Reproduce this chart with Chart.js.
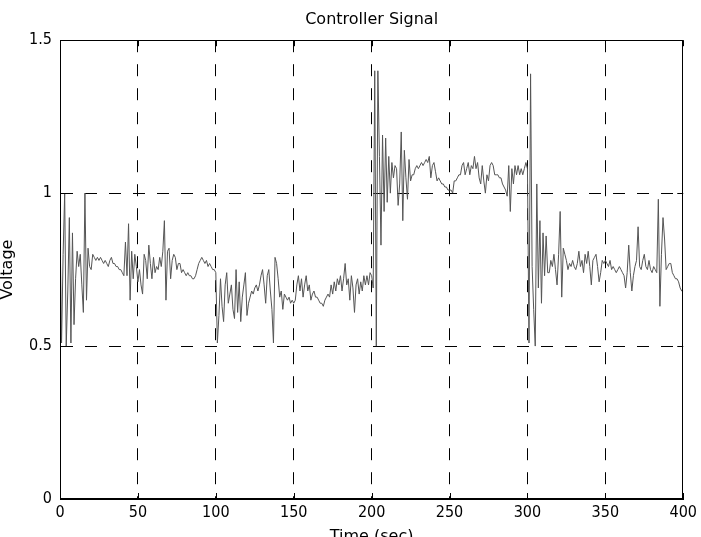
<!DOCTYPE html>
<html>
<head>
<meta charset="utf-8">
<script src="https://cdn.jsdelivr.net/npm/chart.js@4/dist/chart.umd.min.js"></script>
<style>
  html, body { margin: 0; padding: 0; background: #fff; }
  #wrap { position: relative; width: 701px; height: 537px; }
</style>
</head>
<body>
<div id="wrap"><canvas id="c"></canvas></div>
<script>
// one sample per second
const sampleStep = 1

const voltage0to49 = [
  0.90, 0.51, 0.80, 1.00, 0.50, 0.68, 0.92, 0.51, 0.87, 0.57,
  0.72, 0.81, 0.76, 0.80, 0.70, 0.61, 1.00, 0.65, 0.82, 0.76,
  0.75, 0.80, 0.79, 0.78, 0.79, 0.78, 0.79, 0.78, 0.77, 0.78,
  0.77, 0.76, 0.78, 0.79, 0.77, 0.77, 0.76, 0.76, 0.75, 0.75,
  0.74, 0.73, 0.84, 0.73, 0.90, 0.65, 0.81, 0.72, 0.80, 0.76
]
const voltage50to99 = [
  0.71, 0.75, 0.70, 0.67, 0.80, 0.78, 0.72, 0.83, 0.77, 0.72,
  0.79, 0.74, 0.76, 0.75, 0.79, 0.76, 0.81, 0.91, 0.65, 0.81,
  0.82, 0.72, 0.78, 0.80, 0.79, 0.75, 0.77, 0.77, 0.74, 0.75,
  0.74, 0.73, 0.74, 0.73, 0.73, 0.72, 0.72, 0.73, 0.75, 0.77,
  0.78, 0.79, 0.78, 0.77, 0.78, 0.76, 0.77, 0.76, 0.75, 0.75
]
const voltage100to149 = [
  0.74, 0.51, 0.60, 0.72, 0.63, 0.58, 0.70, 0.74, 0.64, 0.67,
  0.70, 0.62, 0.59, 0.75, 0.61, 0.71, 0.58, 0.66, 0.70, 0.74,
  0.60, 0.64, 0.66, 0.68, 0.67, 0.69, 0.70, 0.68, 0.70, 0.73,
  0.75, 0.70, 0.64, 0.73, 0.75, 0.68, 0.62, 0.51, 0.79, 0.77,
  0.72, 0.66, 0.68, 0.62, 0.67, 0.66, 0.65, 0.66, 0.64, 0.65
]
const voltage150to199 = [
  0.64, 0.65, 0.70, 0.73, 0.68, 0.72, 0.66, 0.70, 0.73, 0.68,
  0.70, 0.65, 0.67, 0.68, 0.66, 0.66, 0.65, 0.64, 0.64, 0.63,
  0.65, 0.66, 0.67, 0.66, 0.70, 0.67, 0.71, 0.68, 0.72, 0.70,
  0.73, 0.68, 0.72, 0.77, 0.70, 0.72, 0.65, 0.73, 0.69, 0.61,
  0.70, 0.72, 0.67, 0.71, 0.68, 0.73, 0.70, 0.73, 0.70, 0.74
]
const voltage200to249 = [
  0.73, 0.69, 1.40, 0.50, 1.40, 1.12, 0.83, 1.19, 0.94, 1.18,
  0.97, 1.12, 1.00, 1.10, 1.05, 1.09, 1.08, 0.96, 1.03, 1.20,
  0.91, 1.14, 1.05, 0.98, 1.11, 1.04, 1.06, 1.06, 1.08, 1.09,
  1.08, 1.09, 1.10, 1.09, 1.10, 1.11, 1.10, 1.12, 1.05, 1.09,
  1.10, 1.07, 1.04, 1.05, 1.04, 1.03, 1.03, 1.02, 1.02, 1.01
]
const voltage250to299 = [
  1.01, 1.01, 1.00, 1.04, 1.04, 1.05, 1.06, 1.06, 1.09, 1.10,
  1.06, 1.08, 1.10, 1.06, 1.09, 1.08, 1.12, 1.08, 1.10, 1.05,
  1.03, 1.09, 1.04, 1.00, 1.06, 1.04, 1.09, 1.10, 1.09, 1.06,
  1.06, 1.06, 1.05, 1.05, 1.03, 1.02, 1.01, 0.99, 1.09, 0.94,
  1.08, 1.03, 1.09, 1.06, 1.09, 1.06, 1.08, 1.06, 1.08, 1.10
]
const voltage300to349 = [
  1.08, 0.51, 1.39, 0.76, 0.62, 0.50, 1.03, 0.69, 0.91, 0.64,
  0.87, 0.73, 0.86, 0.74, 0.74, 0.78, 0.76, 0.80, 0.75, 0.70,
  0.80, 0.94, 0.66, 0.82, 0.80, 0.78, 0.75, 0.77, 0.76, 0.78,
  0.76, 0.75, 0.77, 0.81, 0.76, 0.78, 0.74, 0.80, 0.77, 0.81,
  0.76, 0.70, 0.78, 0.79, 0.80, 0.76, 0.71, 0.74, 0.78, 0.77
]
const voltage350to400 = [
  0.78, 0.77, 0.76, 0.78, 0.75, 0.76, 0.75, 0.74, 0.75, 0.76,
  0.75, 0.74, 0.73, 0.69, 0.74, 0.83, 0.74, 0.68, 0.73, 0.76,
  0.78, 0.89, 0.76, 0.75, 0.78, 0.80, 0.76, 0.75, 0.78, 0.75,
  0.74, 0.76, 0.75, 0.74, 0.98, 0.63, 0.80, 0.92, 0.85, 0.75,
  0.76, 0.77, 0.77, 0.74, 0.73, 0.72, 0.72, 0.71, 0.69, 0.68,
  0.68
]

const timeRange = [0, 400]
const timeTickStep = 50
const voltageRange = [0, 1.5]
const voltageTickStep = 0.5

const voltage = [].concat(
  voltage0to49, voltage50to99, voltage100to149, voltage150to199,
  voltage200to249, voltage250to299, voltage300to349, voltage350to400
)
const points = voltage.map((v, i) => ({ x: i * sampleStep, y: v }))

const tickFont = { family: "'DejaVu Sans Condensed', 'DejaVu Sans', sans-serif", size: 16 }
const labelFont = { family: "'DejaVu Sans', sans-serif", size: 16, weight: "normal", lineHeight: 1 }

// dashed grid only inside the box, the frame is drawn solid by the plugin
const innerGrid = (lo, hi) => ctx =>
  (ctx.tick && (ctx.tick.value === lo || ctx.tick.value === hi)) ? "rgba(0,0,0,0)" : "#000"

// matlab style: ticks inside the box on all four sides, plus a solid frame
const innerTicks = {
  id: "innerTicks",
  afterDraw(chart) {
    const { ctx, chartArea: a, scales: { x, y } } = chart
    const len = 6
    ctx.save()
    ctx.strokeStyle = "#000"
    ctx.lineWidth = 1
    ctx.beginPath()
    x.ticks.forEach(t => {
      const px = Math.round(x.getPixelForValue(t.value)) + 0.5
      ctx.moveTo(px, a.bottom)
      ctx.lineTo(px, a.bottom - len)
      ctx.moveTo(px, a.top)
      ctx.lineTo(px, a.top + len)
    })
    y.ticks.forEach(t => {
      const py = Math.round(y.getPixelForValue(t.value)) + 0.5
      ctx.moveTo(a.left, py)
      ctx.lineTo(a.left + len, py)
      ctx.moveTo(a.right, py)
      ctx.lineTo(a.right - len, py)
    })
    ctx.stroke()
    ctx.strokeRect(Math.round(a.left) + 0.5, Math.round(a.top) + 0.5,
      Math.round(a.width) - 1, Math.round(a.height) - 1)
    ctx.restore()
  }
}

new Chart(document.getElementById("c"), {
  type: "line",
  data: {
    datasets: [{
      data: points,
      borderColor: "#555",
      borderWidth: 1,
      pointRadius: 0,
      tension: 0,
      fill: false
    }]
  },
  options: {
    responsive: true,
    maintainAspectRatio: false,
    animation: false,
    devicePixelRatio: 1,
    layout: { padding: { left: 0, right: 17, top: 0, bottom: 0 } },
    plugins: {
      legend: { display: false },
      tooltip: { enabled: false },
      title: {
        display: true,
        text: "Controller Signal",
        fullSize: false,
        color: "#000",
        font: { family: "'DejaVu Sans', sans-serif", size: 16, weight: "normal", lineHeight: 1.2 },
        padding: { top: 10, bottom: 11 }
      }
    },
    scales: {
      x: {
        type: "linear",
        min: timeRange[0],
        max: timeRange[1],
        afterFit: s => { s.height = 38 },
        ticks: { stepSize: timeTickStep, color: "#000", font: tickFont, padding: 4, maxRotation: 0 },
        grid: { color: innerGrid(timeRange[0], timeRange[1]), lineWidth: 1, drawTicks: false },
        border: { display: true, color: "#000", dash: [12, 12] },
        title: {
          display: true,
          text: "Time (sec)",
          color: "#000",
          font: labelFont,
          padding: { top: 0, bottom: -8 }
        }
      },
      y: {
        min: voltageRange[0],
        max: voltageRange[1],
        afterFit: s => { s.width = 60 },
        ticks: {
          stepSize: voltageTickStep,
          color: "#000",
          font: tickFont,
          padding: 8,
          callback: v => String(v)
        },
        grid: { color: innerGrid(voltageRange[0], voltageRange[1]), lineWidth: 1, drawTicks: false },
        border: { display: true, color: "#000", dash: [12, 12] },
        title: {
          display: true,
          text: "Voltage",
          color: "#000",
          font: labelFont,
          padding: { top: 0, bottom: 0 }
        }
      }
    }
  },
  plugins: [innerTicks]
})
</script>
</body>
</html>
